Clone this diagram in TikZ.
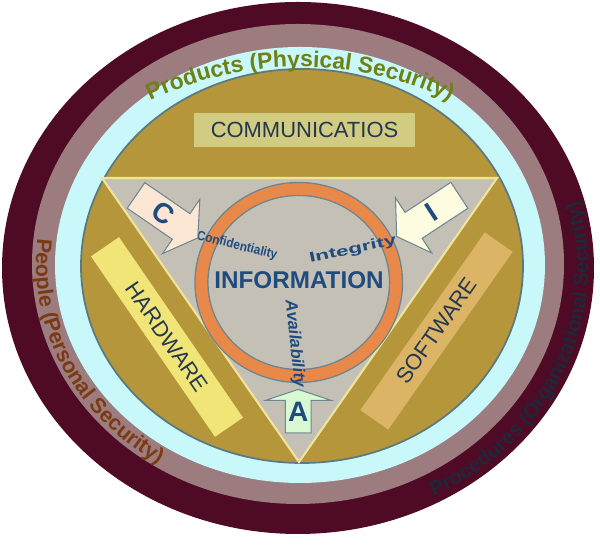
\documentclass[tikz,border=0pt]{standalone}
\usepackage{fontspec}
\setmainfont{Liberation Sans}
\usetikzlibrary{shapes.arrows,decorations.text}
\definecolor{darkband}{HTML}{4F0A26}
\definecolor{mauveband}{HTML}{9C7C7F}
\definecolor{cyanband}{HTML}{C8F8FA}
\definecolor{goldfill}{HTML}{B5963B}
\definecolor{goldedge}{HTML}{5A7A80}
\definecolor{trifill}{HTML}{C4C0B6}
\definecolor{triedge}{HTML}{F0E49A}
\definecolor{commfill}{HTML}{D2CB82}
\definecolor{hwfill}{HTML}{F1E578}
\definecolor{swfill}{HTML}{DCB466}
\definecolor{ringorange}{HTML}{E8894A}
\definecolor{ringedge}{HTML}{6E8590}
\definecolor{textblue}{HTML}{1F4B7F}
\definecolor{textnavy}{HTML}{23384F}
\definecolor{arrowedge}{HTML}{6C8890}
\definecolor{cfill}{HTML}{FDE7D4}
\definecolor{ifill}{HTML}{FEFCE0}
\definecolor{afill}{HTML}{D9F9D5}
\definecolor{prodtext}{HTML}{6F8014}
\definecolor{peopletext}{HTML}{7A3B12}
\definecolor{proctext}{HTML}{1D2838}
\begin{document}
\begin{tikzpicture}[x=0.02cm,y=0.02cm,
  strip/.style={minimum height=0.68cm, inner sep=0pt, text=textnavy, font=\fontsize{12.5}{14}\selectfont},
  cia/.style={single arrow, draw=arrowedge, line width=0.6pt, inner sep=0pt, text height=0.48cm, text depth=0.12cm, single arrow head extend=0.35cm, minimum width=1.3cm, text=textblue, font=\fontsize{16}{16}\selectfont\bfseries}]
\useasboundingbox (0,0) rectangle (600,546);
% rings
\fill[darkband] (298,278) ellipse (296 and 266);
\fill[mauveband] (298,282) ellipse (266 and 240);
\fill[cyanband] (300,281) ellipse (245 and 218);
\filldraw[fill=goldfill, draw=goldedge, line width=1pt] (302,280) ellipse (221 and 197);
% ring labels
\path[decorate, decoration={text along path, text align=center, text={|\fontsize{13}{13}\selectfont\bfseries\color{prodtext}|Products (Physical Security)}}, shift={(300,131)}] (120:348) arc[start angle=120, end angle=60, radius=348];
\path[decorate, decoration={text along path, text align=center, text={|\fontsize{12.2}{13}\selectfont\bfseries\color{peopletext}|People (Personal Security)}}, shift={(298,282)}] (165.5:262 and 236) arc[start angle=165.5, end angle=245.5, x radius=262, y radius=236];
\path[decorate, decoration={text along path, text align=center, text={|\fontsize{11.6}{13}\selectfont\bfseries\color{proctext}|Procedures (Organizational Security)}}, shift={(298,278)}] (-65:290 and 259) arc[start angle=-65, end angle=18.3, x radius=290, y radius=259];
% triangle
\filldraw[fill=trifill, draw=triedge, line width=1.2pt] (102,368) -- (497,368) -- (299,84) -- cycle;
% boxes
\node[strip, fill=commfill, minimum width=4.42cm] (comm) at (304.5,416) {COMMUNICATIOS};
\node[strip, fill=hwfill, minimum width=4.38cm, rotate=-55.5] (hw) at (167,209) {HARDWARE};
\node[strip, fill=swfill, minimum width=4.34cm, rotate=55] (sw) at (436.5,215) {SOFTWARE};
% information ring
\draw[draw=ringedge, line width=0.8pt, double=ringorange, double distance=0.23cm] (298.75,263.5) ellipse (97.3 and 93.5);
\node[text=textblue, font=\fontsize{13.8}{14}\selectfont\bfseries] (info) at (299,266) {INFORMATION};
\node[text=textblue, font=\fontsize{7.5}{8}\selectfont\bfseries, rotate=-14, xscale=0.9] (conf) at (237,300) {Confidentiality};
\node[text=textblue, font=\fontsize{8}{8}\selectfont\bfseries, rotate=12, xscale=1.6] (integ) at (353,296) {Integrity};
\node[text=textblue, font=\fontsize{9.5}{10}\selectfont\bfseries\itshape, rotate=-84] (avail) at (294.5,202.5) {Availability};
% arrows
\node[cia, fill=cfill, minimum height=1.5cm, single arrow tip angle=117, rotate=-34.5] (carrow) at (163,332) {C};
\node[cia, fill=ifill, minimum height=1.5cm, single arrow tip angle=117, shape border rotate=180, rotate=33.3] (iarrow) at (432,332.7) {I};
\node[cia, fill=afill, text height=0.5cm, text depth=0.16cm, minimum height=0.87cm, minimum width=1.31cm, single arrow head extend=0.33cm, single arrow tip angle=143, shape border rotate=90] (aarrow) at (298.3,132.7) {A};
\end{tikzpicture}
\end{document}
